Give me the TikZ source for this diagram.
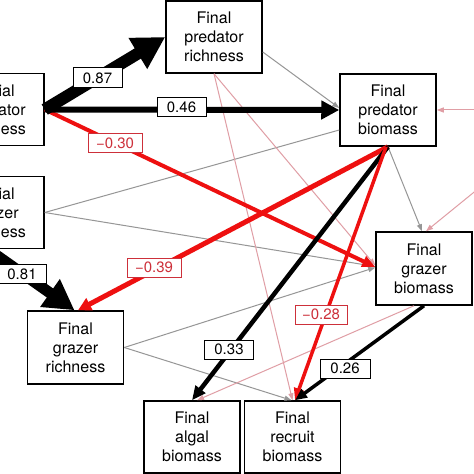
\documentclass[tikz,border=0pt]{standalone}
\usepackage{fontspec}
\setmainfont{TeX Gyre Heros}
\usetikzlibrary{arrows.meta,calc}
\definecolor{myred}{RGB}{238,16,16}
\definecolor{lblred}{RGB}{205,48,58}
\definecolor{mypink}{RGB}{224,158,165}
\definecolor{mygray}{RGB}{150,150,150}
\begin{document}
\begin{tikzpicture}[x=1bp,y=-1bp,
  box/.style={draw=black,line width=1.5bp,fill=white,minimum width=96bp,minimum height=72bp,
    inner sep=0pt,align=center,font=\fontsize{16bp}{19bp}\selectfont},
  lbl/.style={draw=black,line width=1bp,fill=white,inner sep=0pt,minimum height=19bp,
    minimum width=49bp,font=\fontsize{15bp}{15bp}\selectfont},
  lblr/.style={lbl,draw=lblred,text=lblred,minimum width=54bp},
  grayline/.style={draw=mygray,line width=1bp},
  pinkline/.style={draw=mypink,line width=1bp},
  redline/.style={draw=myred},
  blackline/.style={draw=black},
  smalltip/.style={-{Triangle[length=7bp,width=5bp]}}
]
\useasboundingbox (0,0) rectangle (474,474);
\clip (0,0) rectangle (474,474);
\fill[white] (0,0) rectangle (474,474);

% boxes
\node[box] (ipr) at (-4,109.5) {Initial\\predator\\richness};
\node[box] (igr) at (-4,212.5) {Initial\\grazer\\richness};
\node[box] (fpr) at (214,37) {Final\\predator\\richness};
\node[box] (fpb) at (388,110) {Final\\predator\\biomass};
\node[box,minimum height=73bp] (fgb) at (424,268.5) {Final\\grazer\\biomass};
\node[box,minimum height=73bp] (fgr) at (75.5,347.5) {Final\\grazer\\richness};
\node[box] (fab) at (192,437) {Final\\algal\\biomass};
\node[box] (frb) at (292.5,437) {Final\\recruit\\biomass};

\coordinate (offA) at (490,110);
\coordinate (offB) at (500,171);

% thin gray
\draw[grayline] (igr.east) -- ($(fpb.west)+(0,20)$);
\draw[grayline,smalltip] (igr.east) -- ($(fgb.west)+(0,-2)$);
\draw[grayline,smalltip] ($(fpr.east)+(0,15)$) -- ($(fpb.west)+(0,-2)$);
\draw[grayline,smalltip] (fpb.south) -- ($(fgb.north)+(-2,0)$);
\draw[grayline,smalltip] (fgr.east) -- ($(fgb.west)+(0,-1)$);
\draw[grayline,smalltip] (fgr.east) -- ($(frb.north)+(-1,0)$);
% thin pink
\draw[pinkline,smalltip] (fpr.south) -- (frb.north);
\draw[pinkline,smalltip] (fpr.south) -- ($(fgb.west)+(0,-3)$);
\draw[pinkline,smalltip] (offA) -- (fpb.east);
\draw[pinkline,smalltip] (offB) -- ($(fgb.north)+(2,0)$);
\draw[pinkline,smalltip] ($(fgb.south)+(-10,0)$) -- ($(fab.north)+(5,0)$);

% heavy paths
\draw[redline,line width=4bp,-{Triangle[length=13bp,width=11bp]}] (ipr.east) -- ($(fgb.west)+(0,-1.5)$);
\draw[blackline,line width=6bp,-{Triangle[length=18bp,width=18bp]}] (ipr.east) -- (fpb.west);
\draw[blackline,line width=12bp,-{Triangle[length=32bp,width=34bp]}] (ipr.east) -- (fpr.west);
\draw[blackline,line width=11bp,-{Triangle[length=30bp,width=32bp]}] ($(igr.south)+(-8,0)$) -- ($(fgr.north)+(-1,0)$);
\draw[redline,line width=5bp,-{Triangle[length=13bp,width=13bp]}] (fpb.south) -- ($(fgr.north)+(2.5,0)$);
\draw[blackline,line width=4.5bp,-{Triangle[length=14bp,width=12bp]}] (fpb.south) -- (fab.north);
\draw[redline,line width=3.5bp,-{Triangle[length=12bp,width=10bp]}] ($(fpb.south)+(-2,0)$) -- ($(frb.north)+(2.5,0)$);
\draw[blackline,line width=3.5bp,-{Triangle[length=12bp,width=10bp]}] (fgb.south) -- ($(frb.north)+(2.5,0)$);

% labels
\node[lbl,minimum height=20bp] (l1) at (97.5,78) {0.87};
\node[lbl] (l2) at (181.5,107.5) {0.46};
\node[lblr] (l3) at (115,143.5) {−0.30};
\node[lbl] (l4) at (22,274) {0.81};
\node[lblr] (l5) at (154,267.5) {−0.39};
\node[lbl] (l6) at (229,349.5) {0.33};
\node[lblr,minimum width=52bp] (l7) at (321,314.5) {−0.28};
\node[lbl,minimum width=50bp] (l8) at (345,368.5) {0.26};
\end{tikzpicture}
\end{document}
